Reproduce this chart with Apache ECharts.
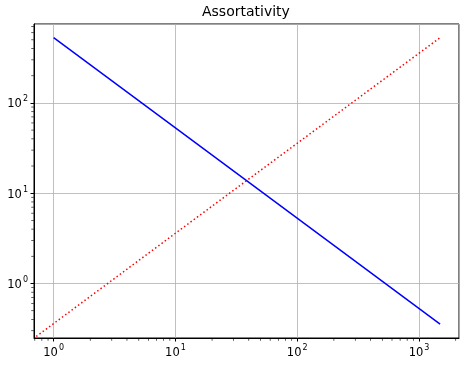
<!DOCTYPE html>
<html>
<head>
<meta charset="utf-8">
<script src="https://cdn.jsdelivr.net/npm/echarts@6/dist/echarts.min.js"></script>
<style>
  html, body { margin: 0; padding: 0; background: #fff; }
  #chart { width: 474px; height: 365px; }
</style>
</head>
<body>
<div id="chart"></div>
<script>
// values
var blueX = [1, 10, 1490];
var blueY = [528, 53, 0.355];
var redX = [0.72, 10, 1490];
var redY = [0.259, 3.6, 528];

var xMin = 0.69, xMax = 2130;
var yMin = 0.249, yMax = 748;

var xMinor = [0.7, 0.8, 0.9, 2, 3, 4, 5, 6, 7, 8, 9, 20, 30, 40, 50, 60, 70, 80, 90,
  200, 300, 400, 500, 600, 700, 800, 900, 2000];
var yMinor = [0.3, 0.4, 0.5, 0.6, 0.7, 0.8, 0.9, 2, 3, 4, 5, 6, 7, 8, 9,
  20, 30, 40, 50, 60, 70, 80, 90, 200, 300, 400, 500, 600, 700];

var FONT = 'DejaVu Sans';

function zip(xs, ys) {
  return xs.map(function (x, i) { return [x, ys[i]]; });
}

function powLabel(v) {
  var e = Math.round(Math.log10(v));
  return '{b|10}{s|' + e + '}';
}

var rich = {
  b: { fontFamily: FONT, fontSize: 11.5, color: '#000', lineHeight: 15, verticalAlign: 'bottom' },
  s: { fontFamily: FONT, fontSize: 8, color: '#000', lineHeight: 15, verticalAlign: 'top', padding: [0, 0, 0, 1] }
};

// log axis has no proper 2..9 minor ticks, so draw them as tiny marks on the spines
function minorTicks(data, size, offset) {
  return {
    type: 'scatter', data: data, symbol: 'rect', symbolSize: size, symbolOffset: offset,
    itemStyle: { color: '#000' }, clip: false, silent: true, z: 5
  };
}

var chart = echarts.init(document.getElementById('chart'));
chart.setOption({
  animation: false,
  title: {
    text: 'Assortativity', left: 202, top: 5, padding: 0,
    textStyle: { fontFamily: FONT, fontSize: 14, fontWeight: 'normal', color: '#000' }
  },
  grid: { left: 34, right: 15, top: 24, bottom: 27, show: true, borderColor: '#000', borderWidth: 1 },
  xAxis: {
    type: 'log', logBase: 10, min: xMin, max: xMax,
    axisLine: { show: true, onZero: false, lineStyle: { color: '#000', width: 1 } },
    axisTick: { show: true, length: 3.5, lineStyle: { color: '#000' } },
    axisLabel: { formatter: powLabel, rich: rich, margin: 6, showMinLabel: false, showMaxLabel: false },
    splitLine: { show: true, lineStyle: { color: '#b0b0b0', width: 0.8 } }
  },
  yAxis: {
    type: 'log', logBase: 10, min: yMin, max: yMax,
    axisLine: { show: true, onZero: false, lineStyle: { color: '#000', width: 1 } },
    axisTick: { show: true, length: 3.5, lineStyle: { color: '#000' } },
    axisLabel: { formatter: powLabel, rich: rich, margin: 6, showMinLabel: false, showMaxLabel: false },
    splitLine: { show: true, lineStyle: { color: '#b0b0b0', width: 0.8 } }
  },
  series: [{
    type: 'line', data: zip(blueX, blueY), showSymbol: false,
    lineStyle: { color: '#0000ff', width: 1.5 }
  }, {
    type: 'line', data: zip(redX, redY), showSymbol: false,
    lineStyle: { color: '#ff0000', width: 1.5, type: [1.5, 2.5] }
  },
  minorTicks(xMinor.map(function (v) { return [v, yMin]; }), [0.8, 2.5], [0, 1.5]),
  minorTicks(yMinor.map(function (v) { return [xMin, v]; }), [2.5, 0.8], [-1.5, 0])
  ]
});
</script>
</body>
</html>
